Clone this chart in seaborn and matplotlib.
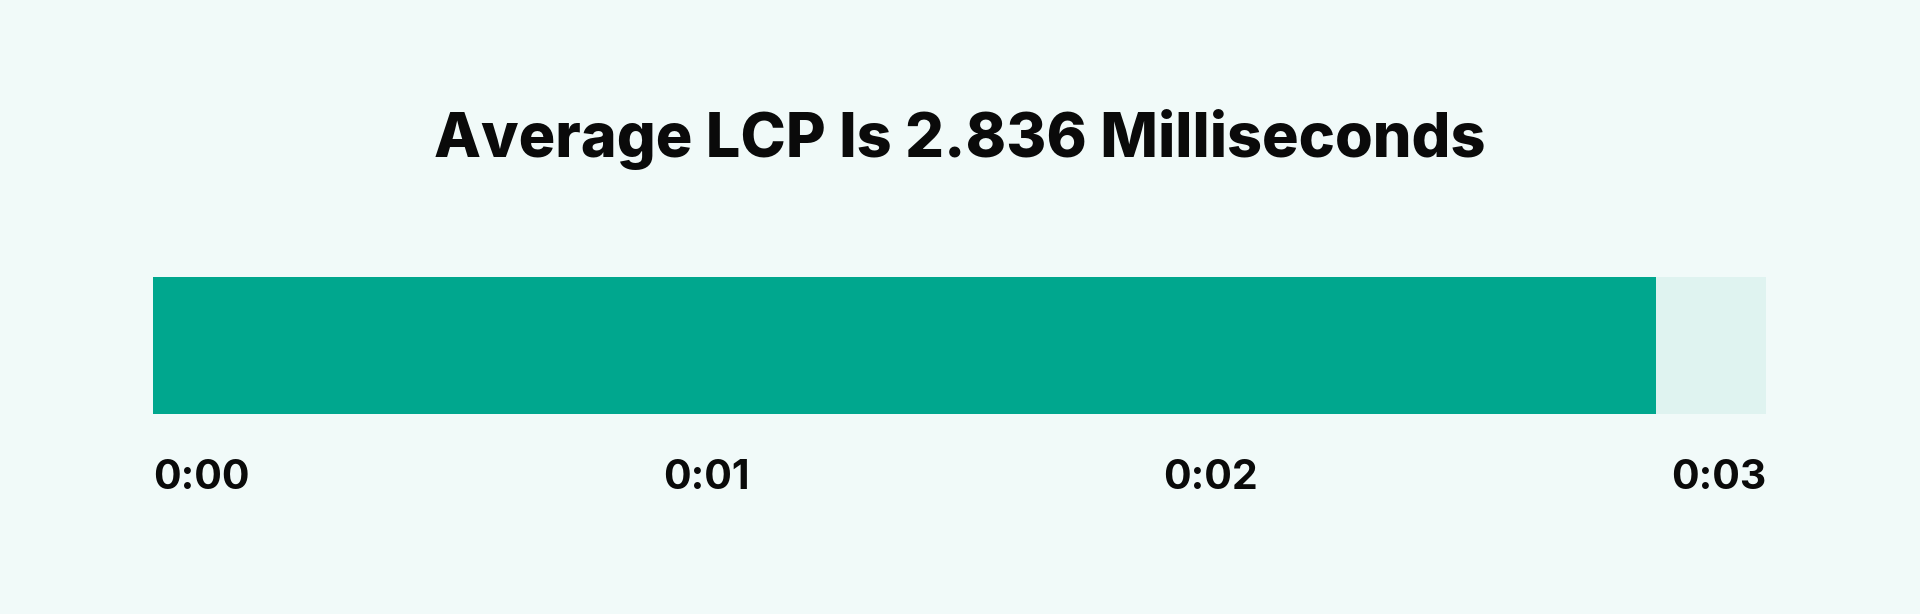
import matplotlib
matplotlib.use("Agg")
import matplotlib.pyplot as plt
import seaborn as sns
import pandas as pd

# ---- data ----
title = "Average LCP Is 2.836 Milliseconds"
metric = ["LCP"]
values = [2.836]
scale_max = 3.043
tick_labels = ["0:00", "0:01", "0:02", "0:03"]

BG = "#f1faf9"
TRACK = "#dff3f0"
GREEN = "#00a78e"

sns.set_theme(style="white")
plt.rcParams["font.family"] = ["Inter", "DejaVu Sans"]

fig = plt.figure(figsize=(19.2, 6.14), dpi=100, facecolor=BG)
W, H = 1920, 614
ax = fig.add_axes([153 / W, 1 - 414 / H, 1613 / W, 137 / H])
ax.set_facecolor(TRACK)

df = pd.DataFrame({"metric": metric, "value": values})
sns.barplot(data=df, x="value", y="metric", orient="h", color=GREEN,
            saturation=1, width=1.0, ax=ax, edgecolor="none", linewidth=0)
ax.set_xlim(0, scale_max)
ax.set_ylim(0.5, -0.5)
ax.set_xticks([])
ax.set_yticks([])
ax.set_xlabel("")
ax.set_ylabel("")
for s in ax.spines.values():
    s.set_visible(False)

fig.text(0.5, 1 - 139 / H, title, ha="center", va="center",
         fontsize=44, fontweight=800, color="#0a0a0a")

# tick labels laid out space-between under the track
fig.canvas.draw()
renderer = fig.canvas.get_renderer()
ax_w_px = ax.get_window_extent().width
texts = [ax.text(0, -0.9, t, transform=ax.get_yaxis_transform(),
                 fontsize=29.5, fontweight="bold", color="#0a0a0a",
                 ha="center", va="center") for t in tick_labels]
ytxt = (1 - 478 / H)
widths = [t.get_window_extent(renderer).width / ax_w_px for t in texts]
n = len(texts)
gap = (1 - sum(widths)) / (n - 1)
pos = 0
for t, w in zip(texts, widths):
    t.set_transform(fig.transFigure)
    x0 = ax.get_position().x0 + (pos + w / 2) * ax.get_position().width
    t.set_position((x0, ytxt))
    pos += w + gap

fig.savefig("out.png", dpi=100, facecolor=BG)
